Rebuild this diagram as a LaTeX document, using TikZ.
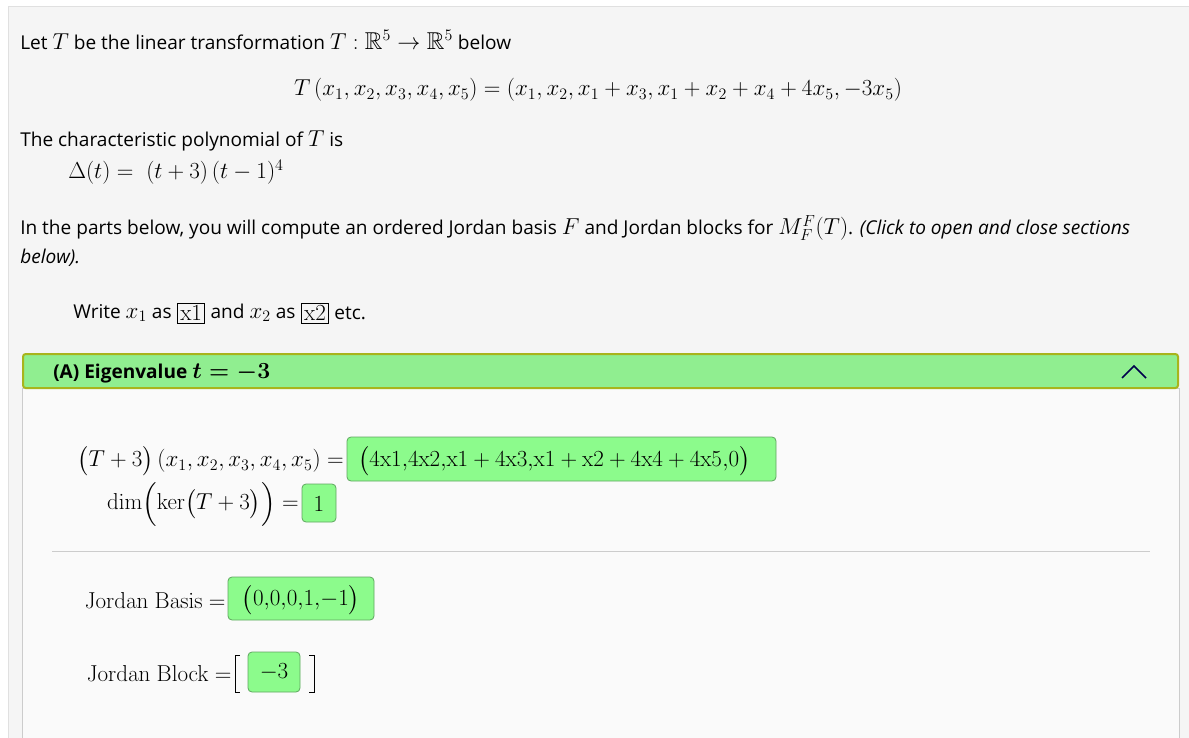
\documentclass[tikz,border=0pt]{standalone}
\usepackage{amsmath,amssymb}
\usepackage[no-math]{fontspec}
\setmainfont{Open Sans}
\newcommand{\mr}{\mathrm}
\newcommand{\M}[1]{{\fontsize{18.3}{21}\selectfont$#1$}}
\definecolor{hdgreen}{HTML}{90EE90}
\definecolor{hdborder}{HTML}{A8B41C}
\definecolor{ansgreen}{HTML}{8CFB8C}
\definecolor{ansborder}{HTML}{5FA55F}
\begin{document}
\begin{tikzpicture}[x=0.75pt,y=-0.75pt,
  txt/.style={anchor=west,inner sep=0pt,font=\fontsize{14.3}{17}\selectfont},
  ans/.style={draw=ansborder,fill=ansgreen,rounded corners=3pt,line width=0.6pt},
  kbox/.style={draw=black,line width=0.5pt,inner xsep=2pt,inner ysep=2pt,font=\fontsize{14}{17}\selectfont}]
\useasboundingbox (0,0) rectangle (1189,738);
\fill[white] (0,0) rectangle (1189,738);
\fill[black!4] (8,6) rectangle (1189,738);
\draw[black!12] (8,738) -- (8,6) -- (1189,6);
% intro text
\node[txt] (l1) at (20,40) {Let \M{T} be the linear transformation \M{T:\mathbb{R}^5\to\mathbb{R}^5} below};
\node[txt,anchor=center] (eq) at (598,90) {\M{T\left(x_1,x_2,x_3,x_4,x_5\right)=\left(x_1,x_2,x_1+x_3,x_1+x_2+x_4+4x_5,-3x_5\right)}};
\node[txt] (l2) at (20,141) {The characteristic polynomial of \M{T} is};
\node[txt] (dl) at (68,172) {\M{\Delta(t)=\;(t+3)\,(t-1)^4}};
\node[txt] (l3) at (20,228) {In the parts below, you will compute an ordered Jordan basis \M{F} and Jordan blocks for \M{M_F^F(T)}. \textit{(Click to open and close sections}};
\node[txt] (l4) at (20,258) {\textit{below).}};
\node[txt] (w1) at (73,313) {Write \M{x_1} as};
\node[kbox,anchor=west] (k1) at ([xshift=4pt]w1.east) {\M{\mr{x1}}};
\node[txt] (w2) at ([xshift=4pt]k1.east) {and \M{x_2} as};
\node[kbox,anchor=west] (k2) at ([xshift=4pt]w2.east) {\M{\mr{x2}}};
\node[txt] (w3) at ([xshift=4pt]k2.east) {etc.};
% panel
\fill[black!2] (22,388) rectangle (1179,738);
\draw[black!20] (22,738) -- (22,388) -- (1179,388) -- (1179,738);
\draw[fill=hdgreen,draw=hdborder,line width=1.5pt,rounded corners=2pt] (23,354) rectangle (1178,388);
\node[txt,font=\fontsize{14.3}{17}\selectfont\bfseries\boldmath] (hd) at (53,373) {(A) Eigenvalue \M{t=-3}};
\draw[blue!30!black,line width=1.2pt] (1122,378) -- (1134,366) -- (1146,378);
% equation 1
\node[txt,anchor=east] (e1) at (344,461) {\M{\bigl(T+3\bigr)\left(x_1,x_2,x_3,x_4,x_5\right)=}};
\draw[ans] (347,437) rectangle (776,481);
\node[txt] (a1) at (358,461) {\M{\bigl(4\mr{x}1{,}4\mr{x}2{,}\mr{x}1+4\mr{x}3{,}\mr{x}1+\mr{x}2+4\mr{x}4+4\mr{x}5{,}0\bigr)}};
\node[txt,anchor=east] (e2) at (299,504) {\M{\dim\Bigl(\ker\bigl(T+3\bigr)\Bigr)=}};
\draw[ans] (302,484) rectangle (336,522);
\node[txt,anchor=center] (a2) at (319,504) {\M{1}};
\draw[black!20] (52,551) -- (1150,551);
\node[txt,anchor=east] (e3) at (226,600) {\M{\mr{Jordan\ Basis}=}};
\draw[ans] (228,577) rectangle (374,620);
\node[txt,anchor=center] (a3) at (301,600) {\M{\bigl(0{,}0{,}0{,}1{,}{-}1\bigr)}};
\node[txt,anchor=east] (e4) at (232,673) {\M{\mr{Jordan\ Block}=}};
\draw[black,line width=0.6pt] (240,655) -- (235,655) -- (235,692) -- (240,692);
\draw[black,line width=0.6pt] (309,655) -- (314,655) -- (314,692) -- (309,692);
\draw[ans] (248,652) rectangle (300,692);
\node[txt,anchor=center] (a4) at (274,672) {\M{-3}};
\end{tikzpicture}
\end{document}
